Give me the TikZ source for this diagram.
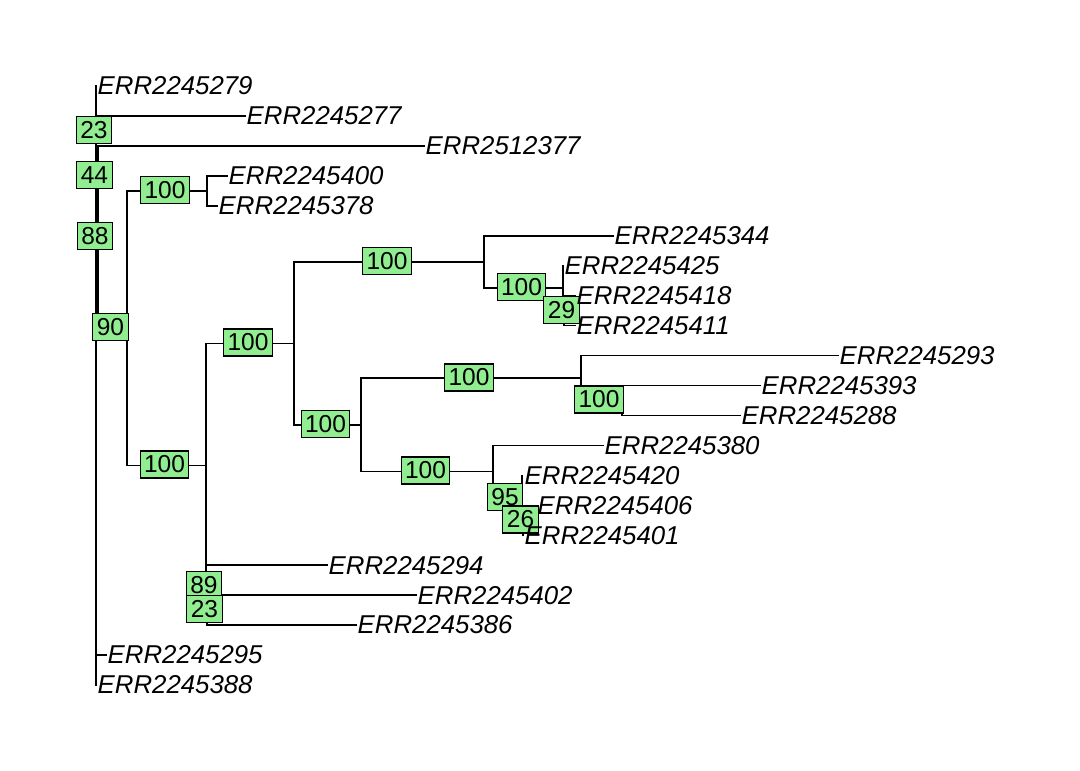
\documentclass[tikz,border=0pt]{standalone}
\usepackage{fontspec}
\setmainfont{Liberation Sans}
\begin{document}
\begin{tikzpicture}[x=1pt,y=-1pt,
  edge/.style={line width=1.6pt, black, line cap=rect},
  tip/.style={anchor=west, inner sep=0pt, xshift=1.5pt, font=\fontsize{25.8}{25.8}\selectfont\itshape},
  bs/.style={draw=black, line width=1.1pt, fill=lgreen, inner xsep=4pt, inner ysep=0pt,
     minimum height=27pt, font=\fontsize{24.5}{24.5}\selectfont}]
\definecolor{lgreen}{HTML}{90EE90}
\path[use as bounding box, fill=white] (0,0) rectangle (1080,771);
% tips
\coordinate (t1) at (96,86);
\coordinate (t2) at (245,115.95);
\coordinate (t3) at (424,145.9);
\coordinate (t4) at (227,175.85);
\coordinate (t5) at (217,205.8);
\coordinate (t6) at (613,235.75);
\coordinate (t7) at (563,265.7);
\coordinate (t8) at (575,295.65);
\coordinate (t9) at (575,325.6);
\coordinate (t10) at (838,355.55);
\coordinate (t11) at (760,385.5);
\coordinate (t12) at (740,415.45);
\coordinate (t13) at (603,445.4);
\coordinate (t14) at (523,475.35);
\coordinate (t15) at (536,505.3);
\coordinate (t16) at (523,535.25);
\coordinate (t17) at (327,565.2);
\coordinate (t18) at (416,595.15);
\coordinate (t19) at (356,625.1);
\coordinate (t20) at (106,655.05);
\coordinate (t21) at (96,685);
% internal nodes
\coordinate (root) at (96,131.2);
\coordinate (nA) at (96,131.2);
\coordinate (nB) at (96.5,176.5);
\coordinate (nC) at (98,237.0);
\coordinate (nD) at (127,328.2);
\coordinate (nE) at (207,190.8);
\coordinate (nF) at (206,465.5);
\coordinate (nG) at (294,343.4);
\coordinate (nH) at (484,262.0);
\coordinate (nI) at (563,288.2);
\coordinate (nJ) at (564,310.6);
\coordinate (nK) at (361,424.8);
\coordinate (nL) at (581,378.0);
\coordinate (nM) at (622,400.5);
\coordinate (nN) at (493,471.6);
\coordinate (nO) at (522,497.8);
\coordinate (nP) at (523,520.3);
\coordinate (nQ) at (206,587.7);
\coordinate (nR) at (207,610.1);
% vertical lines
\draw[edge] (root |- nA) -- (root |- t21);
\draw[edge] (nA |- t1) -- (nA |- nB);
\draw[edge] (nB |- t2) -- (nB |- nC);
\draw[edge] (nC |- t3) -- (nC |- nD);
\draw[edge] (nD |- nE) -- (nD |- nF);
\draw[edge] (nE |- t4) -- (nE |- t5);
\draw[edge] (nF |- nG) -- (nF |- nQ);
\draw[edge] (nG |- nH) -- (nG |- nK);
\draw[edge] (nH |- t6) -- (nH |- nI);
\draw[edge] (nI |- t7) -- (nI |- nJ);
\draw[edge] (nJ |- t8) -- (nJ |- t9);
\draw[edge] (nK |- nL) -- (nK |- nN);
\draw[edge] (nL |- t10) -- (nL |- nM);
\draw[edge] (nM |- t11) -- (nM |- t12);
\draw[edge] (nN |- t13) -- (nN |- nO);
\draw[edge] (nO |- t14) -- (nO |- nP);
\draw[edge] (nP |- t15) -- (nP |- t16);
\draw[edge] (nQ |- t17) -- (nQ |- nR);
\draw[edge] (nR |- t18) -- (nR |- t19);
% horizontal lines
\draw[edge] (root |- t20) -- (t20);
\draw[edge] (nA |- t1) -- (t1);
\draw[edge] (nB |- t2) -- (t2);
\draw[edge] (nC |- t3) -- (t3);
\draw[edge] (nC |- nD) -- (nD);
\draw[edge] (nD |- nE) -- (nE);
\draw[edge] (nD |- nF) -- (nF);
\draw[edge] (nE |- t4) -- (t4);
\draw[edge] (nE |- t5) -- (t5);
\draw[edge] (nF |- nG) -- (nG);
\draw[edge] (nF |- nQ) -- (nQ);
\draw[edge] (nG |- nH) -- (nH);
\draw[edge] (nG |- nK) -- (nK);
\draw[edge] (nH |- t6) -- (t6);
\draw[edge] (nH |- nI) -- (nI);
\draw[edge] (nI |- nJ) -- (nJ);
\draw[edge] (nJ |- t8) -- (t8);
\draw[edge] (nJ |- t9) -- (t9);
\draw[edge] (nK |- nL) -- (nL);
\draw[edge] (nK |- nN) -- (nN);
\draw[edge] (nL |- t10) -- (t10);
\draw[edge] (nL |- nM) -- (nM);
\draw[edge] (nM |- t11) -- (t11);
\draw[edge] (nM |- t12) -- (t12);
\draw[edge] (nN |- t13) -- (t13);
\draw[edge] (nN |- nO) -- (nO);
\draw[edge] (nO |- nP) -- (nP);
\draw[edge] (nP |- t15) -- (t15);
\draw[edge] (nQ |- t17) -- (t17);
\draw[edge] (nR |- t18) -- (t18);
\draw[edge] (nR |- t19) -- (t19);
% support boxes
\node[bs] (bA) at (94,130) {23};
\node[bs] (bB) at (94.5,175) {44};
\node[bs] (bC) at (95,236) {88};
\node[bs] (bD) at (110.5,327) {90};
\node[bs] (bE) at (165,190) {100};
\node[bs] (bF) at (164.5,464.5) {100};
\node[bs] (bG) at (248,342.5) {100};
\node[bs] (bH) at (387,261) {100};
\node[bs] (bI) at (521.5,287) {100};
\node[bs] (bJ) at (561.5,310) {29};
\node[bs] (bK) at (325.5,424) {100};
\node[bs] (bL) at (469,377.5) {100};
\node[bs] (bM) at (599,399.5) {100};
\node[bs] (bN) at (425.5,470.5) {100};
\node[bs] (bO) at (505,497) {95};
\node[bs] (bP) at (520.5,519.5) {26};
\node[bs] (bQ) at (204,585) {89};
\node[bs] (bR) at (204.5,609) {23};
% tip labels
\node[tip] (l1) at (t1) {ERR2245279};
\node[tip] (l2) at (t2) {ERR2245277};
\node[tip] (l3) at (t3) {ERR2512377};
\node[tip] (l4) at (t4) {ERR2245400};
\node[tip] (l5) at (t5) {ERR2245378};
\node[tip] (l6) at (t6) {ERR2245344};
\node[tip] (l7) at (t7) {ERR2245425};
\node[tip] (l8) at (t8) {ERR2245418};
\node[tip] (l9) at (t9) {ERR2245411};
\node[tip] (l10) at (t10) {ERR2245293};
\node[tip] (l11) at (t11) {ERR2245393};
\node[tip] (l12) at (t12) {ERR2245288};
\node[tip] (l13) at (t13) {ERR2245380};
\node[tip] (l14) at (t14) {ERR2245420};
\node[tip] (l15) at (t15) {ERR2245406};
\node[tip] (l16) at (t16) {ERR2245401};
\node[tip] (l17) at (t17) {ERR2245294};
\node[tip] (l18) at (t18) {ERR2245402};
\node[tip] (l19) at (t19) {ERR2245386};
\node[tip] (l20) at (t20) {ERR2245295};
\node[tip] (l21) at (t21) {ERR2245388};
\end{tikzpicture}
\end{document}
